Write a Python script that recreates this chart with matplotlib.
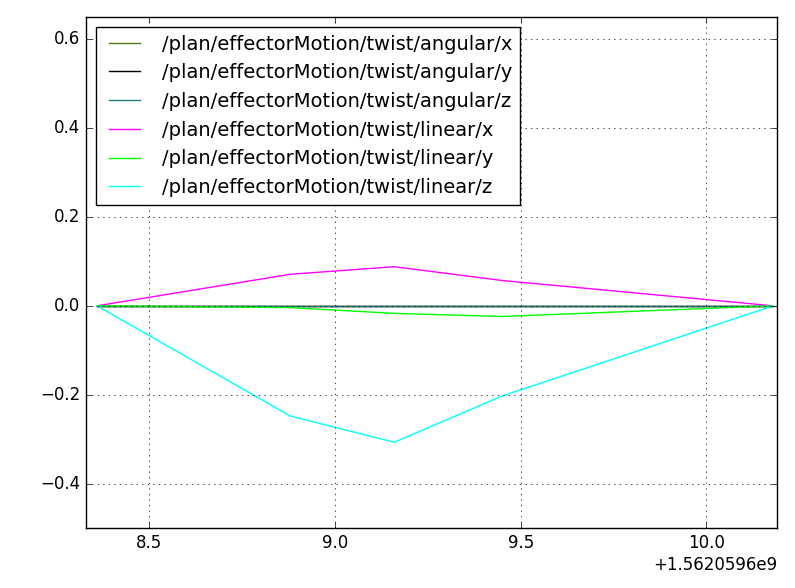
import numpy as np
import matplotlib
matplotlib.use("Agg")
import matplotlib.pyplot as plt

plt.style.use("classic")

BASE = 1562059611.0
T_REL = [-2.64, -2.12, -1.84, -1.55, -0.82]
ANG_X = [0.0, 0.0, 0.0, 0.0, 0.0]
ANG_Y = [0.0, 0.0, 0.0, 0.0, 0.0]
ANG_Z = [0.0, 0.0, 0.0, 0.0, 0.0]
LIN_X = [0.0, 0.071, 0.088, 0.057, 0.0]
LIN_Y = [0.0, -0.004, -0.017, -0.024, 0.0]
LIN_Z = [0.0, -0.248, -0.307, -0.203, 0.0]

SERIES = [
    ("/plan/effectorMotion/twist/angular/x", ANG_X, "#4d7f17"),
    ("/plan/effectorMotion/twist/angular/y", ANG_Y, "black"),
    ("/plan/effectorMotion/twist/angular/z", ANG_Z, "#1f7f7f"),
    ("/plan/effectorMotion/twist/linear/x", LIN_X, "magenta"),
    ("/plan/effectorMotion/twist/linear/y", LIN_Y, "lime"),
    ("/plan/effectorMotion/twist/linear/z", LIN_Z, "cyan"),
]

fig = plt.figure(figsize=(7.95, 5.88), dpi=100, facecolor="white")
ax = fig.add_axes([86 / 795, 60 / 588, 691 / 795, 511 / 588])
t = BASE + np.array(T_REL)
for label, vals, color in SERIES:
    ax.plot(t, vals, color=color, label=label, linewidth=1)

ax.set_xlim(BASE - 2.67, BASE - 0.81)
ax.set_ylim(-0.5, 0.65)
ax.set_yticks([-0.4, -0.2, 0.0, 0.2, 0.4, 0.6])
ax.grid(True)
ax.legend(loc="upper left", fontsize=14, handlelength=2.2)

fig.savefig("out.png", dpi=100, facecolor="white")
